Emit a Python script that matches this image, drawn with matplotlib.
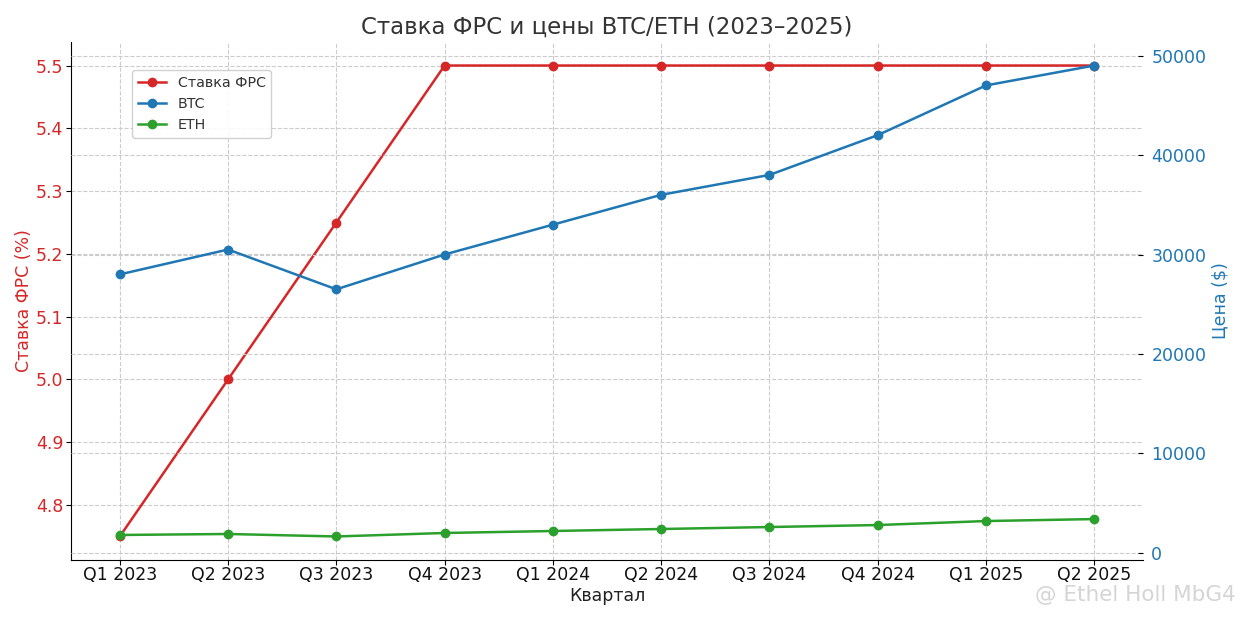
import matplotlib
matplotlib.use('Agg')
import matplotlib.pyplot as plt

# Quarterly data
quarters = ['Q1 2023', 'Q2 2023', 'Q3 2023', 'Q4 2023', 'Q1 2024',
            'Q2 2024', 'Q3 2024', 'Q4 2024', 'Q1 2025', 'Q2 2025']
fed_rate = [4.75, 5.0, 5.25, 5.5, 5.5, 5.5, 5.5, 5.5, 5.5, 5.5]
btc = [28000, 30500, 26500, 30000, 33000, 36000, 38000, 42000, 47000, 49000]
eth = [1800, 1900, 1650, 2000, 2200, 2400, 2600, 2800, 3200, 3400]

red = '#d62728'
blue = '#1f77b4'
green = '#2ca02c'

fig, ax1 = plt.subplots(figsize=(12.42, 6.21), dpi=100)
fig.subplots_adjust(left=0.0572, right=0.9203, top=0.9324, bottom=0.0982)

l1, = ax1.plot(quarters, fed_rate, '-o', color=red, lw=1.8, ms=6, label='Ставка ФРС')
ax1.set_ylabel('Ставка ФРС (%)', color=red, fontsize=12.5, labelpad=2)
ax1.tick_params(axis='y', labelcolor=red, labelsize=12.5, length=3.5, pad=2)
ax1.tick_params(axis='x', labelsize=12.5, length=3.5, pad=1, labelcolor='#111111')
ax1.set_xlabel('Квартал', fontsize=12.5, color='#222222', labelpad=2)
ax1.grid(True, linestyle='--', color='#cccccc', linewidth=0.8)

ax2 = ax1.twinx()
l2, = ax2.plot(quarters, btc, '-o', color=blue, lw=1.8, ms=6, label='BTC')
l3, = ax2.plot(quarters, eth, '-o', color=green, lw=1.8, ms=6, label='ETH')
ax2.set_ylabel('Цена ($)', color=blue, fontsize=12.5)
ax2.tick_params(axis='y', labelcolor=blue, labelsize=12.5, length=3.5, direction='in', pad=6)
ax2.grid(True, axis='y', linestyle='--', color='#cccccc', linewidth=0.8)

for a in (ax1, ax2):
    a.spines['top'].set_visible(False)
    a.spines['right'].set_visible(False)
ax2.spines['left'].set_visible(False)
ax2.spines['bottom'].set_visible(False)

ax1.set_title('Ставка ФРС и цены BTC/ETH (2023–2025)', fontsize=16.5, color='#333333')

leg = ax1.legend(handles=[l1, l2, l3], loc='upper left', bbox_to_anchor=(0.05, 0.96),
                 fontsize=10.3, framealpha=0.9)
for t in leg.get_texts():
    t.set_color('#333333')

fig.text(0.995, 0.025, '@ Ethel Holl MbG4', ha='right', va='bottom',
         fontsize=15.5, color='#d5d5d5')

fig.savefig('out.png', dpi=100)
